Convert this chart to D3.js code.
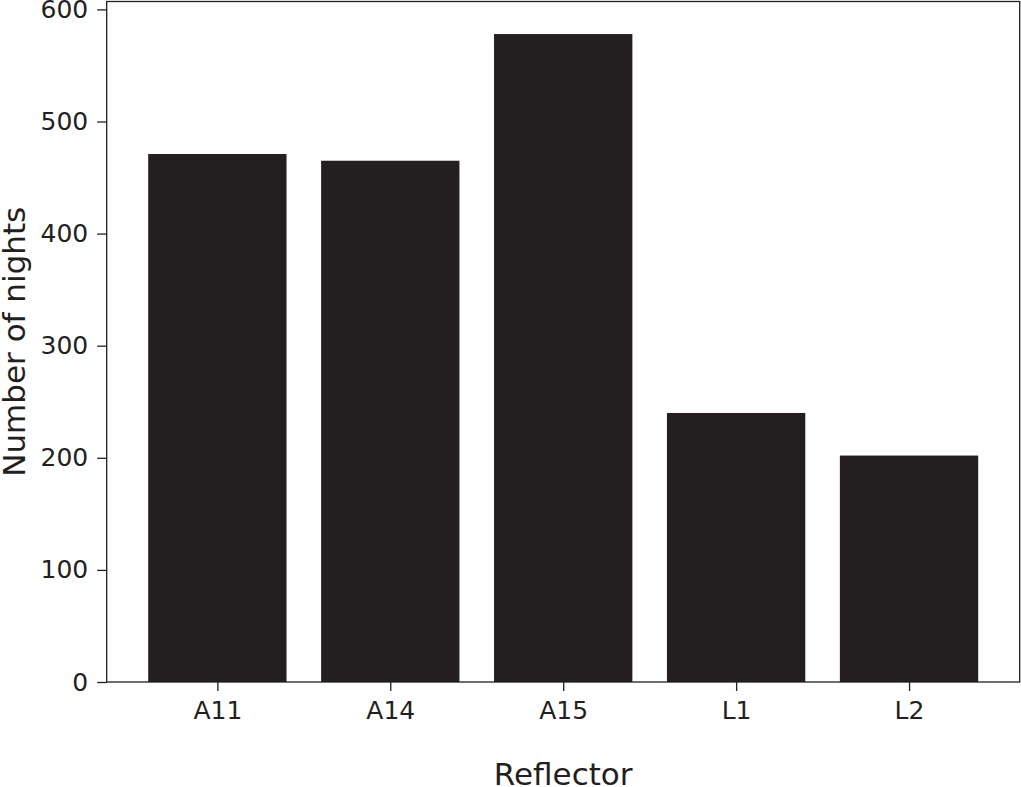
<!DOCTYPE html>
<html><head><meta charset="utf-8">
<script src="https://cdn.jsdelivr.net/npm/d3@7"></script>
<style>body{margin:0;background:#fff}svg{display:block}text{font-family:"DejaVu Sans",sans-serif;fill:#231f20}</style>
</head><body><svg id="c" width="1021" height="787"></svg>
<script>
const categories = ["A11","A14","A15","L1","L2"];
const values = [471, 465, 578, 240, 202];
const yTicks = [0,100,200,300,400,500,600];

const svg = d3.select("#c");
const L=106.7, R=1019.7, T=1.5, B=682;
const x = d3.scaleLinear().domain([-0.64, 4.64]).range([L, R]);
const y = d3.scaleLinear().domain([0, 600]).range([B, 9.4]);
const col = "#231f20";

svg.selectAll("rect.bar").data(values).enter().append("rect")
  .attr("class","bar")
  .attr("x",(d,i)=>x(i-0.4)).attr("width",(d,i)=>x(i+0.4)-x(i-0.4))
  .attr("y",d=>y(d)).attr("height",d=>B-y(d)).attr("fill",col);

svg.append("rect").attr("x",L).attr("y",T).attr("width",R-L).attr("height",B-T)
  .attr("fill","none").attr("stroke",col).attr("stroke-width",1.3);

const ya = d3.axisLeft(y).tickValues(yTicks).tickSize(9.5).tickPadding(9);
const gy = svg.append("g").attr("transform",`translate(${L},0)`).call(ya);
gy.select(".domain").remove();
gy.selectAll("line").attr("stroke",col).attr("stroke-width",1.3);
gy.selectAll("text").attr("font-size",25).style("fill",col);

const xa = d3.axisBottom(x).tickValues(d3.range(categories.length)).tickFormat(i=>categories[i]).tickSize(9).tickPadding(10);
const gx = svg.append("g").attr("transform",`translate(0,${B})`).call(xa);
gx.select(".domain").remove();
gx.selectAll("line").attr("stroke",col).attr("stroke-width",1.3);
gx.selectAll("text").attr("font-size",25).style("fill",col);

svg.append("text").attr("x",(L+R)/2).attr("y",785).attr("text-anchor","middle")
  .attr("font-size",31).text("Reflector");
svg.append("text").attr("transform",`translate(25,${(T+B)/2}) rotate(-90)`)
  .attr("text-anchor","middle").attr("font-size",31).text("Number of nights");
</script></body></html>
